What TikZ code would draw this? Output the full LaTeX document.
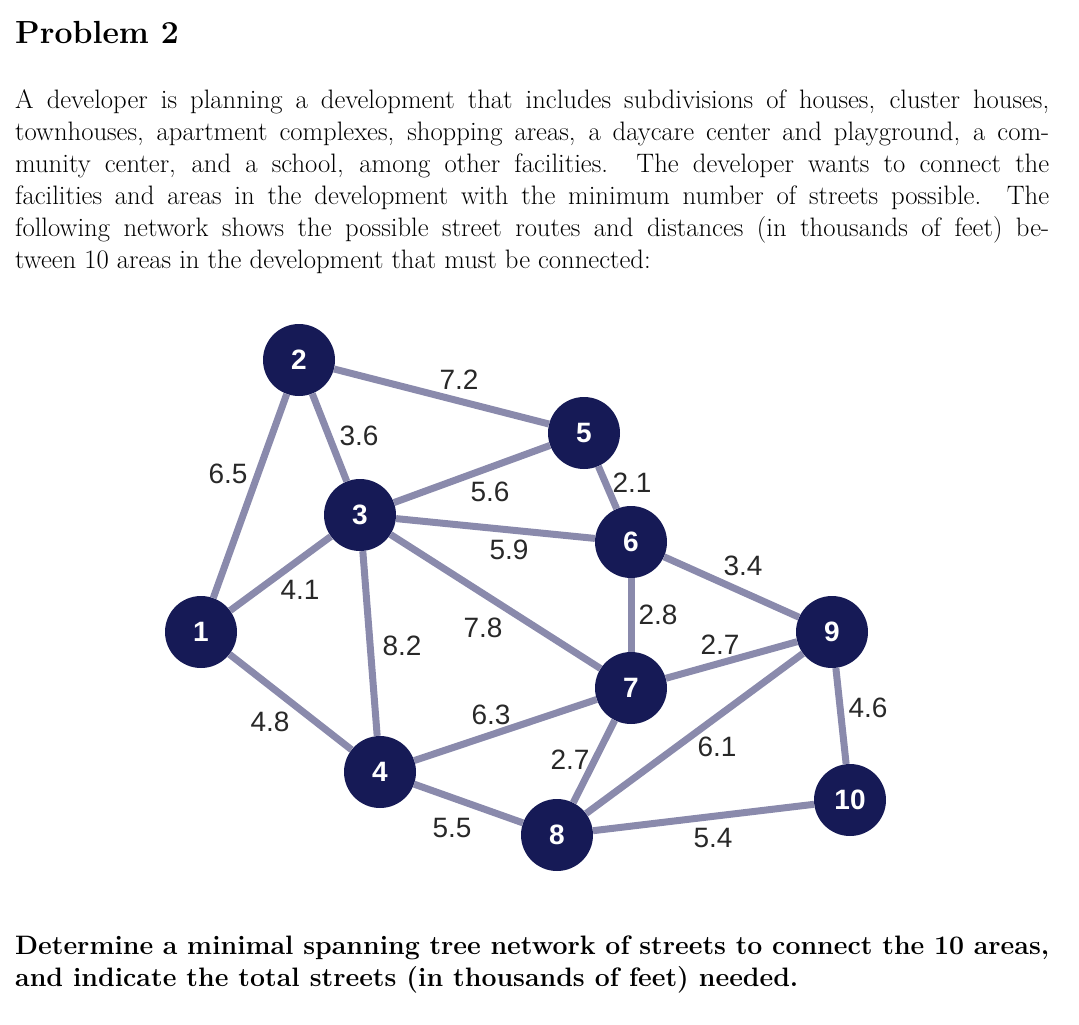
\documentclass[tikz,border=0pt]{standalone}
\usepackage{fontspec}
\newfontfamily\labfont{Liberation Sans}
\definecolor{navy}{RGB}{22,26,86}
\definecolor{edgec}{RGB}{138,138,172}
\definecolor{labc}{RGB}{40,40,40}
\tikzset{
  vtx/.style={circle,fill=navy,minimum size=72pt,inner sep=0pt,text=white,font=\labfont\bfseries\fontsize{28}{28}\selectfont},
  street/.style={draw=edgec,line width=7pt},
  wlab/.style={font=\labfont\fontsize{28}{28}\selectfont,text=labc,inner sep=0pt},
  para/.style={anchor=north west,inner sep=0pt,text width=1034pt,align=justify,font=\fontsize{26.67}{32}\selectfont}
}
\begin{document}
\begin{tikzpicture}[x=1pt,y=-1pt]
\useasboundingbox (0,0) rectangle (1079,1025);
\node[anchor=base west,inner sep=0pt,font=\bfseries\fontsize{32}{38}\selectfont] (title) at (15,44) {Problem 2};
\node[para] (text1) at (15,89.5) {A developer is planning a development that includes subdivisions of houses, cluster houses,\linebreak townhouses, apartment complexes, shopping areas, a daycare center and playground, a com-\linebreak munity center, and a school, among other facilities.\ \ The developer wants to connect the\linebreak facilities and areas in the development with the minimum number of streets possible.\ \ The\linebreak following network shows the possible street routes and distances (in thousands of feet) be-\linebreak tween 10 areas in the development that must be connected:};
\node[para,font=\bfseries\fontsize{26.67}{32}\selectfont] (text2) at (15,936) {Determine a minimal spanning tree network of streets to connect the 10 areas,\linebreak and indicate the total streets (in thousands of feet) needed.};

\node[vtx] (n1) at (201,632) {1};
\node[vtx] (n2) at (299,360) {2};
\node[vtx] (n3) at (360,515) {3};
\node[vtx] (n4) at (380,772) {4};
\node[vtx] (n5) at (584,433) {5};
\node[vtx] (n6) at (631,542) {6};
\node[vtx] (n7) at (631,688) {7};
\node[vtx] (n8) at (557,835) {8};
\node[vtx] (n9) at (832,632) {9};
\node[vtx] (n10) at (850,800) {10};

\draw[street] (n1) -- (n2);
\draw[street] (n1) -- (n3);
\draw[street] (n1) -- (n4);
\draw[street] (n2) -- (n3);
\draw[street] (n2) -- (n5);
\draw[street] (n3) -- (n5);
\draw[street] (n3) -- (n6);
\draw[street] (n3) -- (n7);
\draw[street] (n3) -- (n4);
\draw[street] (n5) -- (n6);
\draw[street] (n6) -- (n7);
\draw[street] (n6) -- (n9);
\draw[street] (n7) -- (n9);
\draw[street] (n7) -- (n4);
\draw[street] (n7) -- (n8);
\draw[street] (n8) -- (n9);
\draw[street] (n9) -- (n10);
\draw[street] (n8) -- (n10);
\draw[street] (n4) -- (n8);

\node[wlab] (l25) at (459,380) {7.2};
\node[wlab] (l23) at (359,436) {3.6};
\node[wlab] (l12) at (228,474) {6.5};
\node[wlab] (l35) at (490,492) {5.6};
\node[wlab] (l56) at (632,483) {2.1};
\node[wlab] (l36) at (509,550) {5.9};
\node[wlab] (l69) at (743,566) {3.4};
\node[wlab] (l13) at (300,590) {4.1};
\node[wlab] (l37) at (483,628) {7.8};
\node[wlab] (l67) at (658,615) {2.8};
\node[wlab] (l79) at (720,645) {2.7};
\node[wlab] (l34) at (402,646) {8.2};
\node[wlab] (l14) at (270,722) {4.8};
\node[wlab] (l47) at (491,715) {6.3};
\node[wlab] (l910) at (868,708) {4.6};
\node[wlab] (l89) at (717,747) {6.1};
\node[wlab] (l78) at (570,760) {2.7};
\node[wlab] (l48) at (452,828) {5.5};
\node[wlab] (l810) at (713,838) {5.4};
\end{tikzpicture}
\end{document}
